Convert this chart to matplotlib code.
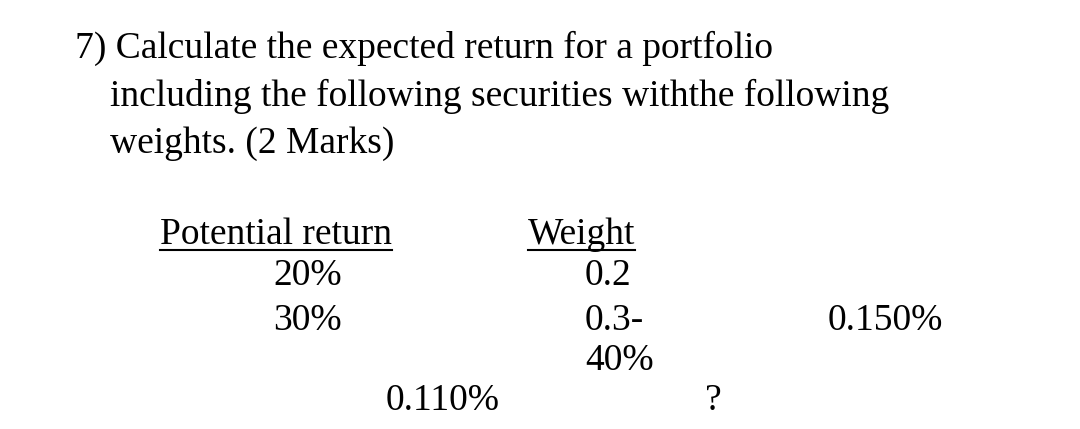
import matplotlib
matplotlib.use("Agg")
import matplotlib.pyplot as plt
from matplotlib.lines import Line2D

W, H = 1080, 429
question = ["7) Calculate the expected return for a portfolio",
            "including the following securities withthe following",
            "weights. (2 Marks)"]
headers = ["Potential return", "Weight"]
returns = ["20%", "30%"]
weights = ["0.2", "0.3-", "40%"]
extra = ["0.150%", "0.110%", "?"]

fig = plt.figure(figsize=(W/100, H/100), dpi=100)
fig.patch.set_facecolor("white")
font = dict(family="Liberation Serif", fontsize=27, color="black", va="baseline")

def put(x, y, s):
    return fig.text(x/W, 1 - y/H, s, **font)

put(75, 58, question[0])
put(110, 106, question[1])
put(110, 153, question[2])

put(160, 244, headers[0])
put(528, 244, headers[1])
fig.canvas.draw()
r = fig.canvas.get_renderer()
for t in fig.texts[-2:]:
    bb = t.get_window_extent(r)
    y = 1 - 250/H
    fig.add_artist(Line2D([bb.x0/W, bb.x1/W], [y, y], color="black", lw=1.5))

put(273, 285, returns[0])
put(273, 330, returns[1])
put(585, 285, weights[0])
put(585, 330, weights[1])
put(585, 370, weights[2])
put(828, 330, extra[0])
put(386, 410, extra[1])
put(705, 410, extra[2])

fig.savefig("out.png", dpi=100, facecolor="white")
